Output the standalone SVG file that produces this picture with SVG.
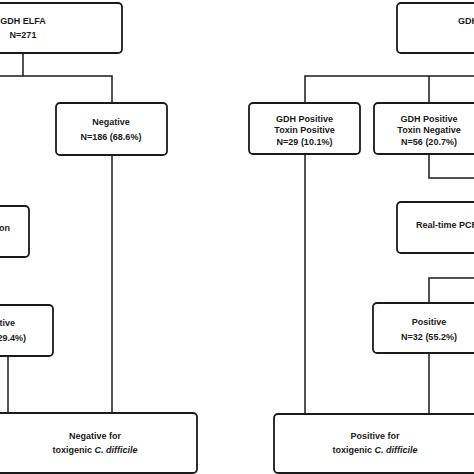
<svg xmlns="http://www.w3.org/2000/svg" width="474" height="474" viewBox="0 0 474 474">
<style>
.box{fill:#fff;stroke:#1a1a1a;stroke-width:1.8}
.ln{fill:none;stroke:#1a1a1a;stroke-width:1.5}
text{font-family:"Liberation Sans",Arial,sans-serif;font-weight:bold;font-size:9px;fill:#1a1a1a}
.c{text-anchor:middle}
.e{text-anchor:end}
</style>
<rect width="474" height="474" fill="#fff"/>
<g id="connectors">
<path class="ln" d="M23 53V76M0 76H112V103"/>
<path class="ln" d="M112 155V413"/>
<path class="ln" d="M8 356V413"/>
<path class="ln" d="M305 103V76H474M429 76V103"/>
<path class="ln" d="M305 154V414"/>
<path class="ln" d="M429 154V178H474"/>
<path class="ln" d="M474 278H429V303"/>
<path class="ln" d="M429 353V414"/>
</g>
<g id="gdh-elfa-left">
<rect class="box" x="-80" y="3" width="202" height="50" rx="4"/>
<text class="c" x="23" y="23.5">GDH ELFA</text>
<text class="c" x="23" y="37.5">N=271</text>
</g>
<g id="negative">
<rect class="box" x="56" y="103" width="111" height="52" rx="4"/>
<text class="c" x="111" y="125">Negative</text>
<text class="c" x="111" y="140">N=186 (68.6%)</text>
</g>
<g id="left-middle">
<rect class="box" x="-80" y="206" width="109" height="51" rx="4"/>
<text class="e" x="10" y="231">on</text>
</g>
<g id="left-positive">
<rect class="box" x="-60" y="305" width="113" height="51" rx="4"/>
<text class="e" x="15" y="326">tive</text>
<text class="e" x="26" y="341">29.4%)</text>
</g>
<g id="negative-final">
<rect class="box" x="-80" y="413" width="277" height="60" rx="4"/>
<text class="c" x="95" y="439">Negative for</text>
<text class="c" x="95" y="453">toxigenic <tspan font-style="italic">C. difficile</tspan></text>
</g>
<g id="gdh-elfa-right">
<rect class="box" x="397" y="3" width="120" height="50" rx="4"/>
<text x="458" y="23.5">GDH</text>
</g>
<g id="pos-pos">
<rect class="box" x="249" y="103" width="111" height="51" rx="4"/>
<text class="c" x="304.5" y="121.5">GDH Positive</text>
<text class="c" x="304.5" y="132.8">Toxin Positive</text>
<text class="c" x="304.5" y="144.5">N=29 (10.1%)</text>
</g>
<g id="pos-neg">
<rect class="box" x="374" y="103" width="110" height="51" rx="4"/>
<text class="c" x="429" y="121.5">GDH Positive</text>
<text class="c" x="429" y="132.8">Toxin Negative</text>
<text class="c" x="429" y="144.5">N=56 (20.7%)</text>
</g>
<g id="pcr">
<rect class="box" x="397" y="202" width="120" height="51" rx="4"/>
<text x="416" y="228">Real-time PCR</text>
</g>
<g id="right-positive">
<rect class="box" x="373" y="303" width="112" height="50" rx="4"/>
<text class="c" x="429" y="325">Positive</text>
<text class="c" x="429" y="339.5">N=32 (55.2%)</text>
</g>
<g id="positive-final">
<rect class="box" x="274" y="414" width="220" height="59" rx="4"/>
<text class="c" x="375" y="439">Positive for</text>
<text class="c" x="375" y="453">toxigenic <tspan font-style="italic">C. difficile</tspan></text>
</g>
</svg>
